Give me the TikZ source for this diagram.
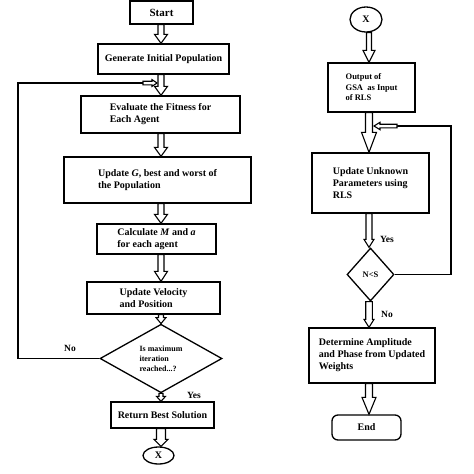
\documentclass[tikz,border=0pt]{standalone}
\usepackage{fontspec}
\setmainfont{Liberation Serif}
\usetikzlibrary{calc,shapes.geometric}
\newcommand{\Edge}{1.3pt}
\newcommand{\ColL}{161}
\newcommand{\ColR}{369}
% hollow block arrow: from, to, half shaft, half head, head length
\newcommand{\BlockArrow}[5]{%
  \coordinate (bas) at (#1);
  \coordinate (bat) at (#2);
  \coordinate (bah) at ($(bat)!#5!(bas)$);
  \draw[hollow] ($(bas)!#3!90:(bat)$) -- ($(bah)!#3!90:(bat)$)
    -- ($(bah)!#4!90:(bat)$) -- (bat) -- ($(bah)!#4!-90:(bat)$)
    -- ($(bah)!#3!-90:(bat)$) -- ($(bas)!#3!-90:(bat)$) -- cycle;
}
\tikzset{
  stepbox/.style={draw, line width=\Edge, align=left, inner sep=0pt,
    font=\bfseries\fontsize{10}{12}\selectfont},
  smallbox/.style={stepbox, font=\bfseries\fontsize{8.5}{10.5}\selectfont},
  decide/.style={diamond, draw, line width=\Edge, align=left, inner sep=0pt,
    font=\bfseries\fontsize{8}{10}\selectfont},
  joint/.style={ellipse, draw, line width=\Edge, inner sep=0pt,
    font=\bfseries\fontsize{10}{12}\selectfont},
  hollow/.style={draw, fill=white, line width=1.1pt, line join=miter},
  loopline/.style={line width=\Edge},
  tag/.style={font=\bfseries\fontsize{9.5}{11}\selectfont}
}

\begin{document}
\begin{tikzpicture}[x=1pt,y=-1pt]
  \useasboundingbox (0,0) rectangle (474,474);
  \coordinate (colL) at (\ColL,0);
  \coordinate (colR) at (\ColR,0);

  % ---- GSA column ---------------------------------------------------------
  \node[stepbox, minimum width=63, minimum height=23,
    font=\bfseries\fontsize{11}{13}\selectfont] (start) at (161.5,12.5) {Start};
  \node[stepbox, minimum width=131, minimum height=30] (gen) at (163.5,59)
    {Generate Initial Population};
  \node[stepbox, minimum width=159, minimum height=37] (eval) at (160.5,114.5)
    {Evaluate the Fitness for\\Each Agent};
  \node[stepbox, minimum width=187, minimum height=46] (upd) at (157.5,180)
    {Update \textit{G}, best and worst of\\the Population};
  \node[stepbox, minimum width=119, minimum height=30] (calc) at (156.5,239)
    {Calculate \textit{M} and \textit{a}\\for each agent};
  \node[stepbox, minimum width=133, minimum height=32] (vel) at (153.5,298)
    {Update Velocity\\and Position};
  \node[decide, minimum width=122, minimum height=67] (dec) at (161,358.5)
    {Is maximum\\iteration\\reached...?};
  \node[stepbox, minimum width=103, minimum height=26] (ret) at (162.5,415)
    {Return Best Solution};
  \node[joint, minimum width=31, minimum height=17] (xl) at (158.5,455.5) {X};

  \BlockArrow{start.south -| colL}{gen.north -| colL}{3pt}{6.5pt}{9pt}
  \BlockArrow{gen.south -| colL}{eval.north -| colL}{3pt}{6.5pt}{9pt}
  \BlockArrow{eval.south -| colL}{upd.north -| colL}{3pt}{6.5pt}{9pt}
  \BlockArrow{upd.south -| colL}{calc.north -| colL}{3pt}{6.5pt}{9pt}
  \BlockArrow{calc.south -| colL}{vel.north -| colL}{3pt}{6.5pt}{10pt}
  \BlockArrow{vel.south -| colL}{dec.north -| colL}{2.5pt}{5pt}{6pt}
  \BlockArrow{dec.south -| colL}{ret.north -| colL}{2pt}{4.5pt}{5pt}
  \BlockArrow{ret.south -| colL}{xl.north -| colL}{4.5pt}{7pt}{7pt}

  % loop back when the iteration limit is not reached
  \coordinate (loopL) at (18,83);
  \coordinate (fbTailL) at (143,83);
  \coordinate (fbTipL) at (157,83);
  \draw[loopline] (dec.west) -| (loopL) -- (fbTailL);
  \BlockArrow{fbTailL}{fbTipL}{1.8pt}{3.4pt}{5pt}
  \node[tag] (noL) at (70,348) {No};
  \node[tag] (yesL) at (194,395) {Yes};

  % ---- RLS column ---------------------------------------------------------
  \node[joint, minimum width=32, minimum height=25] (xr) at (366,19.5) {X};
  \node[smallbox, minimum width=87, minimum height=49] (out) at (371.5,87.5)
    {Output of\\GSA~~as Input\\of RLS};
  \node[stepbox, minimum width=117, minimum height=60] (upu) at (370.5,183)
    {Update Unknown\\Parameters using\\RLS};
  \node[decide, minimum width=47, minimum height=53,
    font=\bfseries\fontsize{8.5}{10}\selectfont] (ns) at (370.5,274.5) {N<S};
  \node[stepbox, minimum width=126, minimum height=55] (det) at (372,355.5)
    {Determine Amplitude\\and Phase from Updated\\Weights};
  \node[stepbox, rounded corners=6pt, minimum width=69, minimum height=25]
    (endn) at (366.5,427.5) {End};

  \BlockArrow{xr.south -| colR}{out.north -| colR}{2.5pt}{6pt}{12pt}
  \BlockArrow{out.south -| colR}{upu.north -| colR}{3.5pt}{7.5pt}{20pt}
  \BlockArrow{upu.south -| colR}{ns.north -| colR}{3pt}{5pt}{8pt}
  \BlockArrow{ns.south -| colR}{det.north -| colR}{3.3pt}{5pt}{8pt}
  \BlockArrow{det.south -| colR}{endn.north -| colR}{3.5pt}{7pt}{17pt}

  % loop back while N<S
  \coordinate (loopR) at (451,126);
  \coordinate (fbTailR) at (397,126);
  \coordinate (fbTipR) at (374,126);
  \draw[loopline] (ns.east) -| (loopR) -- (fbTailR);
  \BlockArrow{fbTailR}{fbTipR}{1.8pt}{3.7pt}{6pt}
  \node[tag] (yesR) at (387,239) {Yes};
  \node[tag] (noR) at (387,314) {No};

\end{tikzpicture}
\end{document}
